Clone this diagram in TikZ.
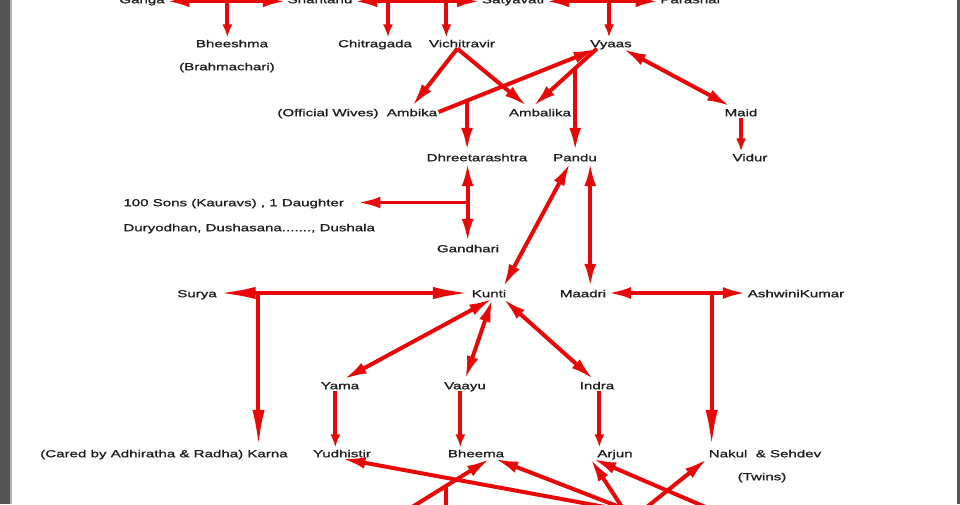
\documentclass[tikz,border=0pt]{standalone}
\usepackage{fontspec}
\setmainfont[FakeStretch=1.48,FakeBold=1.2]{Liberation Sans}
\usetikzlibrary{arrows.meta}
\definecolor{linkred}{RGB}{232,8,8}
\definecolor{namegray}{RGB}{30,30,30}
\definecolor{edgegray}{RGB}{85,85,85}
\tikzset{
  person/.style={text=namegray, font=\fontsize{8.7pt}{10pt}\selectfont, inner sep=1pt, text height=.72em, text depth=0pt},
  link/.style={draw=linkred, line width=3.4pt, >={Latex[length=20pt,width=10pt]}},
  shorttip/.style={>={Latex[length=11pt,width=8.5pt]}},
  longtip/.style={>={Latex[length=32pt,width=10.5pt]}}
}
\begin{document}
\begin{tikzpicture}[x=0.03cm, y=-0.03cm]
\useasboundingbox (0,0) rectangle (960,504);
\clip (0,0) rectangle (960,504);
\fill[white] (0,0) rectangle (960,504);
\fill[edgegray] (0,0) rectangle (10,504);
\fill[edgegray!45] (10,0) rectangle (11.5,504);
\fill[edgegray] (957,0) rectangle (960,504);

\node[person] (ganga) at (142,-1) {Ganga};
\node[person] (shantanu) at (320,-1) {Shantanu};
\node[person] (satyavati) at (513,-1) {Satyavati};
\node[person] (parashar) at (691,-1) {Parashar};

\node[person] (bheeshma) at (232,43) {Bheeshma};
\node[person] (brahmachari) at (227,66) {(Brahmachari)};
\node[person] (chitragada) at (375,43) {Chitragada};
\node[person] (vichitravir) at (462,43) {Vichitravir};
\node[person] (vyaas) at (611,43) {Vyaas};

\node[person] (wives) at (328,112) {(Official Wives)};
\node[person] (ambika) at (412,112) {Ambika};
\node[person] (ambalika) at (540,112) {Ambalika};
\node[person] (maid) at (741,112) {Maid};

\node[person] (dhreet) at (477,157) {Dhreetarashtra};
\node[person] (pandu) at (575,157) {Pandu};
\node[person] (vidur) at (750,157) {Vidur};

\node[person, anchor=west] (sons) at (122,202) {100 Sons (Kauravs) , 1 Daughter};
\node[person, anchor=west] (kauravs) at (122,227) {Duryodhan, Dushasana......., Dushala};
\node[person] (gandhari) at (468,248) {Gandhari};

\node[person] (surya) at (197,293) {Surya};
\node[person] (kunti) at (489,293) {Kunti};
\node[person] (maadri) at (583,293) {Maadri};
\node[person] (ashwini) at (796,293) {AshwiniKumar};

\node[person] (yama) at (340,385) {Yama};
\node[person] (vaayu) at (465,385) {Vaayu};
\node[person] (indra) at (597,385) {Indra};

\node[person] (karna) at (164,453) {(Cared by Adhiratha \& Radha) Karna};
\node[person] (yudhistir) at (342,453) {Yudhistir};
\node[person] (bheema) at (476,453) {Bheema};
\node[person] (arjun) at (615,453) {Arjun};
\node[person] (nakul) at (765,453) {Nakul\ \ \& Sehdev};
\node[person] (twins) at (762,476) {(Twins)};

\coordinate (d1) at (730,530);
\coordinate (d2) at (375,530);
\coordinate (d3) at (679,530);
\coordinate (d4) at (637,530);
\coordinate (d5) at (759,530);
\coordinate (d6) at (618,530);
\coordinate (ghat) at (447,530);

\draw[link,<->] ([yshift=-2pt]ganga.east) -- coordinate[pos=.51] (gs) ([yshift=-2pt]shantanu.west);
\draw[link,<->] ([yshift=-2pt]shantanu.east) -- coordinate[pos=.27] (ss1) coordinate[pos=.73] (ss2) ([yshift=-2pt]satyavati.west);
\draw[link,<->] ([yshift=-2pt]satyavati.east) -- coordinate[pos=.56] (sp) ([yshift=-2pt]parashar.west);
\draw[link,->,shorttip] (gs) -- (gs |- bheeshma.north);
\draw[link,->,shorttip] (ss1) -- (ss1 |- chitragada.north);
\draw[link,->,shorttip] (ss2) -- (ss2 |- vichitravir.north);
\draw[link,->,shorttip] (sp) -- (sp |- vyaas.north);

\draw[link,->] ([xshift=-4pt]vichitravir.south) -- (ambika.north);
\draw[link,->] ([xshift=-4pt]vichitravir.south) -- ([xshift=-11pt]ambalika.north);
\draw[link,->] (ambika.east) -- coordinate[pos=.18] (av) ([xshift=-12pt]vyaas.south);
\draw[link,->] ([xshift=-12pt]vyaas.south) -- coordinate[pos=.34] (bv) ([xshift=-6pt]ambalika.north);
\draw[link,<->] ([xshift=10pt]vyaas.south) -- ([xshift=-9pt]maid.north);
\draw[link,->,shorttip] (maid.south) -- (maid.south |- vidur.north);
\draw[link,->] (av) -- (av |- dhreet.north);
\draw[link,->] (bv) -- (bv |- pandu.north);

\draw[link,<->] ([xshift=-8pt]dhreet.south) -- coordinate[pos=.5] (dg) ([xshift=-8pt]dhreet.south |- gandhari.north);
\draw[link,->] (dg) -- ([xshift=10pt]sons.east |- dg);

\draw[link,<->] ([xshift=-4pt]pandu.south) -- ([xshift=12pt]kunti.north);
\draw[link,<->] ([xshift=13pt]pandu.south) -- ([xshift=13pt]pandu.south |- maadri.north);

\draw[link,<->,longtip] (surya.east) -- coordinate[pos=.16] (sk) (kunti.west);
\draw[link,->,longtip] (sk) -- (sk |- karna.north);
\draw[link,<->] (maadri.east) -- coordinate[pos=.75] (ma) (ashwini.west);
\draw[link,->,longtip] (ma) -- (ma |- nakul.north);

\draw[link,<->] ([xshift=3pt]kunti.south) -- ([xshift=3pt]yama.north);
\draw[link,<->] ([xshift=3pt]kunti.south) -- (vaayu.north);
\draw[link,<->] ([xshift=12pt]kunti.south) -- ([xshift=-3pt]indra.north);

\draw[link,->,shorttip] ([xshift=-4pt]yama.south) -- ([xshift=-4pt]yama.south |- yudhistir.north);
\draw[link,->,shorttip] ([xshift=-4pt]vaayu.south) -- ([xshift=-4pt]vaayu.south |- bheema.north);
\draw[link,->,shorttip] ([xshift=2pt]indra.south) -- ([xshift=2pt]indra.south |- arjun.north);

\draw[link,->] (d1) -- (yudhistir.south);
\draw[link,->] (d2) -- coordinate[pos=.62] (bh) ([xshift=12pt]bheema.south);
\draw[link] (bh) -- (bh |- ghat);
\draw[link,->] (d3) -- ([xshift=16pt]bheema.south);
\draw[link,->] (d4) -- ([xshift=-21pt]arjun.south);
\draw[link,->] (d5) -- ([xshift=-19pt]arjun.south);
\draw[link,->] (d6) -- (nakul.south west);
\end{tikzpicture}
\end{document}
